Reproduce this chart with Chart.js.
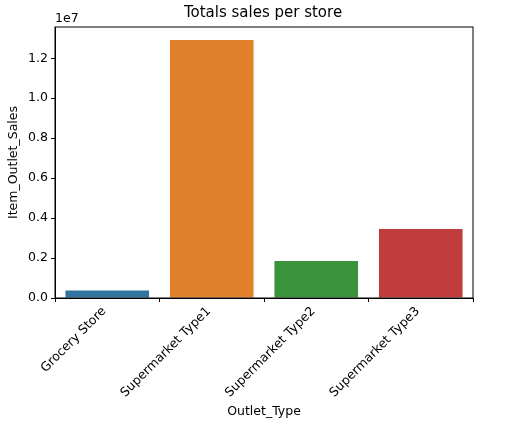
<!DOCTYPE html>
<html>
<head>
<meta charset="utf-8">
<script src="https://cdn.jsdelivr.net/npm/chart.js@4"></script>
<style>
  body { margin: 0; background: #fff; }
  #wrap { width: 532px; height: 435px; }
</style>
</head>
<body>
<div id="wrap"><canvas id="salesChart" width="532" height="435"></canvas></div>
<script>
// === Data ===
const outletTypes = ['Grocery Store', 'Supermarket Type1', 'Supermarket Type2', 'Supermarket Type3'];
const totalSales = [370000, 12920000, 1850000, 3450000];
const barColors = ['#3274a1', '#e1812c', '#3a923a', '#c03d3e'];
const yTicks = [0, 2e6, 4e6, 6e6, 8e6, 10e6, 12e6];

Chart.defaults.font.family = '"DejaVu Sans", sans-serif';
Chart.defaults.font.size = 12.5;
Chart.defaults.color = '#000';

// box around the plot + the "1e7" offset label
const framePlugin = {
  id: 'frame',
  afterDatasetsDraw(chart) {
    const a = chart.chartArea, c = chart.ctx;
    c.save();
    c.strokeStyle = '#000';
    c.lineWidth = 1;
    c.strokeRect(a.left, a.top, a.right - a.left, a.bottom - a.top);
    c.font = '12.5px "DejaVu Sans", sans-serif';
    c.fillStyle = '#000';
    c.textBaseline = 'bottom';
    c.fillText('1e7', a.left, a.top - 2);
    c.restore();
  }
};

const ctxSales = document.getElementById('salesChart').getContext('2d');
new Chart(ctxSales, {
  type: 'bar',
  data: {
    labels: outletTypes,
    datasets: [{
      data: totalSales,
      backgroundColor: barColors,
      barPercentage: 0.8,
      categoryPercentage: 1.0
    }]
  },
  options: {
    responsive: false,
    animation: false,
    devicePixelRatio: 1,
    layout: { padding: { left: 0, right: 6, top: 0, bottom: 0 } },
    plugins: {
      legend: { display: false },
      tooltip: { enabled: false },
      title: {
        display: true,
        text: 'Totals sales per store',
        font: { size: 15, weight: 'normal' },
        color: '#000',
        padding: { top: 4, bottom: 5 }
      }
    },
    scales: {
      x: {
        grid: { drawOnChartArea: false, tickLength: 4, tickColor: '#000' },
        border: { color: '#000' },
        ticks: { minRotation: 45, maxRotation: 45, padding: 2, labelOffset: -3 },
        title: { display: true, text: 'Outlet_Type', padding: { top: 4, bottom: 15.5 } },
        afterFit(scale) { scale.height = 137; }
      },
      y: {
        min: 0,
        max: Math.max(...totalSales) * 1.05,
        grid: { drawOnChartArea: false, tickLength: 4, tickColor: '#000' },
        border: { color: '#000' },
        afterBuildTicks(scale) { scale.ticks = yTicks.map(v => ({ value: v })); },
        ticks: {
          padding: 3,
          callback: v => (v / 1e7).toFixed(1)
        },
        title: { display: true, text: 'Item_Outlet_Sales', padding: { top: 6.5, bottom: 0 } },
        afterFit(scale) { scale.width = 55; }
      },
      // empty spacer on the right so the plot ends where the reference does
      yRight: {
        position: 'right',
        display: true,
        grid: { display: false },
        border: { display: false },
        ticks: { display: false },
        afterFit(scale) { scale.width = 53; }
      }
    }
  },
  plugins: [framePlugin]
});
</script>
</body>
</html>
